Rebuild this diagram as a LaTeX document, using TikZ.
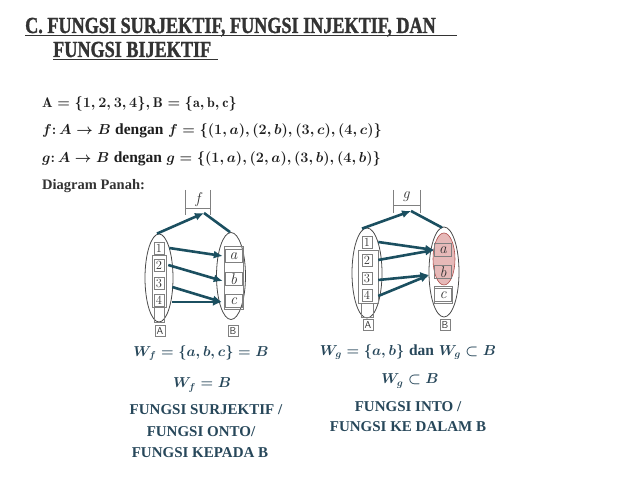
\documentclass[tikz,border=0pt]{standalone}
\usepackage{fontspec}
\usepackage{amsmath}
\usetikzlibrary{arrows.meta,shapes.geometric}
\newfontfamily\titlefont[FakeStretch=0.79, BoldFont={Liberation Serif Bold}, BoldFeatures={FakeStretch=0.79, FakeBold=1.2}]{Liberation Serif}
\newfontfamily\capfont{Liberation Serif}
\definecolor{titlegray}{HTML}{333333}
\definecolor{mathdark}{HTML}{1E1E1E}
\definecolor{arrteal}{HTML}{1B4F60}
\definecolor{txtblue}{HTML}{27475A}
\definecolor{cellgray}{HTML}{808080}
\definecolor{ellgray}{HTML}{4A4A4A}
\definecolor{pinkfill}{HTML}{E6B9B8}
\definecolor{pinkdraw}{HTML}{B0504D}
\tikzset{
  titletext/.style={anchor=base west, inner sep=0pt, text=titlegray, font=\titlefont\bfseries\fontsize{23}{24}\selectfont},
  mathline/.style={anchor=base west, inner sep=0pt, text=mathdark, font=\fontsize{14}{16}\selectfont\boldmath},
  setell/.style={draw=ellgray, line width=0.8pt, ellipse, inner sep=0pt},
  numcell/.style={draw=cellgray, line width=0.5pt, inner sep=0pt, minimum width=10pt, minimum height=12pt, text=titlegray, font=\fontsize{12.5}{12}\selectfont},
  letcell/.style={draw=cellgray, line width=0.5pt, inner sep=0pt, minimum width=17pt, minimum height=13pt, text=titlegray, font=\fontsize{15.5}{15}\selectfont\itshape},
  plaincell/.style={draw=cellgray, line width=0.5pt},
  setlabel/.style={draw=cellgray, line width=0.5pt, inner sep=0pt, minimum width=10pt, minimum height=11pt, text=titlegray, font=\sffamily\fontsize{10}{10}\selectfont},
  maparrow/.style={draw=arrteal, line width=2.6pt, -{Latex[length=9pt,width=8pt]}},
  mapline/.style={draw=arrteal, line width=2.6pt},
  funclabel/.style={inner sep=0pt, text=titlegray, font=\fontsize{15.5}{15}\selectfont\itshape},
  bottommath/.style={inner sep=0pt, text=txtblue, font=\fontsize{14.5}{16}\selectfont\boldmath},
  bottomtext/.style={inner sep=0pt, text=txtblue, font=\capfont\bfseries\fontsize{15}{16}\selectfont},
}
\newcommand{\wordbf}[1]{{\capfont\bfseries\fontsize{15.5}{16}\selectfont #1}}
\begin{document}
\begin{tikzpicture}[x=1pt,y=-1pt]
\useasboundingbox (0,0) rectangle (638,478);
\fill[white] (0,0) rectangle (638,478);

% Title
\node[titletext] (t1) at (25,33) {C. FUNGSI SURJEKTIF, FUNGSI INJEKTIF, DAN};
\node[titletext] (t2) at (53,57) {FUNGSI BIJEKTIF};
\draw[titlegray, line width=1.4pt] ([yshift=-2.5pt]t1.base west) -- ++(432,0);
\draw[titlegray, line width=1.4pt] ([yshift=-2.5pt]t2.base west) -- ++(165,0);

% Definitions
\node[mathline] (m1) at (42,108) {$\mathrm{A}=\{1,2,3,4\},\mathrm{B}=\{\mathrm{a},\mathrm{b},\mathrm{c}\}$};
\node[mathline] (m2) at (42,135) {$f{:}\,A\to B$ \wordbf{dengan} $f=\{(1,a),(2,b),(3,c),(4,c)\}$};
\node[mathline] (m3) at (42,163) {$g{:}\,A\to B$ \wordbf{dengan} $g=\{(1,a),(2,a),(3,b),(4,b)\}$};
\node[anchor=base west, inner sep=0pt, text=titlegray, font=\capfont\bfseries\fontsize{14.5}{16}\selectfont] (dp) at (42,190) {Diagram Panah:};

% ---------- Diagram f ----------
\draw[cellgray, line width=0.6pt] (185,190) -- (185,215) (210,190) -- (210,215) (185,208) -- (210,208);
\node[funclabel] (flab) at (198,200) {f};

\node[setell, minimum width=28pt, minimum height=88pt] (fA) at (159,278) {};
\node[setell, minimum width=29pt, minimum height=87pt] (fB) at (231,276) {};

\draw[plaincell] (152,255) rectangle (166,307);
\draw[plaincell] (154,307) rectangle (164,322);
\node[numcell] (f1) at (159,248) {1};
\node[numcell] (f2) at (159,265) {2};
\node[numcell] (f3) at (159,283) {3};
\node[numcell] (f4) at (159,300) {4};

\draw[plaincell] (224,246) rectangle (243,309);
\node[letcell] (fa) at (233.5,256) {a};
\node[letcell] (fb) at (233.5,279) {b};
\node[letcell] (fc) at (233.5,301) {c};

\node[setlabel] (fAl) at (160,331) {A};
\node[setlabel] (fBl) at (233,331) {B};

\coordinate (ftip) at (204,213);
\draw[maparrow] ([xshift=-2pt]fA.north) -- (ftip);
\draw[mapline] (ftip) -- ([xshift=-1pt]fB.north);
\draw[maparrow] ([xshift=5pt]f1.east) -- ([xshift=-2pt]fa.west);
\draw[maparrow] ([xshift=4pt]f2.east) -- ([xshift=-2pt,yshift=-2pt]fb.west);
\draw[maparrow] ([xshift=8pt,yshift=-4pt]f3.east) -- ([xshift=-3pt,yshift=-1pt]fc.west);
\draw[maparrow] ([xshift=8pt,yshift=-2pt]f4.east) -- ([xshift=-3pt,yshift=-1pt]fc.west);

% ---------- Diagram g ----------
\draw[cellgray, line width=0.6pt] (393,190) -- (393,213) (420,190) -- (420,213) (393,205) -- (420,205);
\node[funclabel] (glab) at (406,197) {g};

\node[setell, minimum width=30pt, minimum height=90pt] (gA) at (367,273) {};
\node[setell, minimum width=30pt, minimum height=90pt] (gB) at (444,272) {};
\node[ellipse, draw=pinkdraw, fill=pinkfill, line width=0.6pt, minimum width=22pt, minimum height=52pt, inner sep=0pt] (gpink) at (444,259) {};

\draw[plaincell] (358,250) rectangle (378,303);
\draw[plaincell] (361,303) rectangle (373,317);
\node[numcell] (g1) at (367,242) {1};
\node[numcell] (g2) at (367,260) {2};
\node[numcell] (g3) at (367,278) {3};
\node[numcell] (g4) at (367,295) {4};

\node[letcell] (ga) at (443,250) {a};
\node[letcell] (gb) at (443,272) {b};
\node[letcell] (gc) at (443,295) {c};
\draw[plaincell] (434.5,286) rectangle (452,303);

\node[setlabel] (gAl) at (368,325) {A};
\node[setlabel] (gBl) at (445,325) {B};

\coordinate (gtip) at (411,211);
\draw[maparrow] ([xshift=-5pt,yshift=-1pt]gA.north) -- (gtip);
\draw[mapline] (gtip) -- ([xshift=-2pt,yshift=-1pt]gB.north);
\draw[maparrow] ([xshift=6pt]g1.east) -- ([xshift=0pt]ga.west);
\draw[maparrow] ([xshift=6pt]g2.east) -- ([xshift=0pt]ga.west);
\draw[maparrow] ([xshift=6pt,yshift=-2pt]g3.east) -- ([xshift=-5pt,yshift=-3pt]gb.west);
\draw[maparrow] ([xshift=6pt,yshift=-1pt]g4.east) -- ([xshift=-5pt,yshift=-3pt]gb.west);

% ---------- Results ----------
\node[bottommath] (wf1) at (201,353) {$W_{f}=\{a,b,c\}=B$};
\node[bottommath] (wf2) at (202,385) {$W_{f}=B$};
\node[bottomtext] (sf1) at (206,410) {FUNGSI SURJEKTIF /};
\node[bottomtext] (sf2) at (201,432) {FUNGSI ONTO/};
\node[bottomtext] (sf3) at (200,453) {FUNGSI KEPADA B};

\node[bottommath] (wg1) at (408,352) {$W_{g}=\{a,b\}$ \wordbf{dan} $W_{g}\subset B$};
\node[bottommath] (wg2) at (410,381) {$W_{g}\subset B$};
\node[bottomtext] (sg1) at (408,407) {FUNGSI INTO /};
\node[bottomtext] (sg2) at (408,427) {FUNGSI KE DALAM B};
\end{tikzpicture}
\end{document}
